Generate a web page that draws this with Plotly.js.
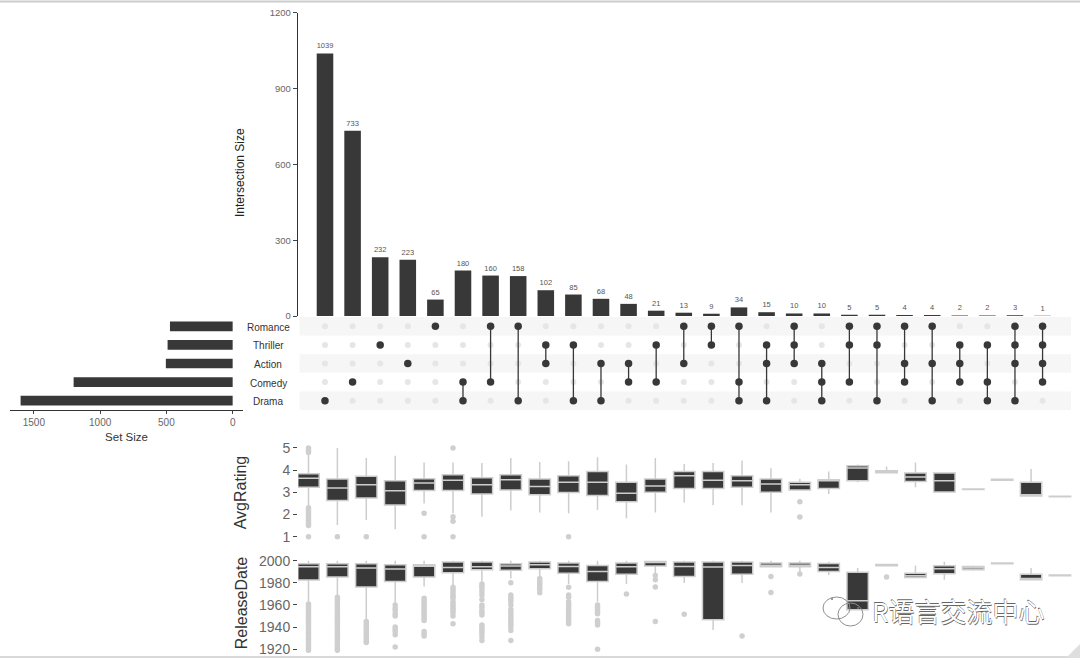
<!DOCTYPE html>
<html>
<head>
<meta charset="utf-8">
<script src="https://cdn.plot.ly/plotly-3.0.1.min.js"></script>
<style>html,body{margin:0;padding:0;background:#fff}#chart{width:1080px;height:658px}</style>
</head>
<body>
<div id="chart"></div>
<script>
// ---- data ----
const intersectionSizes = [1039,733,232,223,65,180,160,158,102,85,68,48,21,13,9,34,15,10,10,5,5,4,4,2,2,3,1];
const setNames = ['Romance','Thriller','Action','Comedy','Drama'];
const setSizes = [473,491,504,1200,1600];
const memberships = [
 ['Drama'],['Comedy'],['Thriller'],['Action'],['Romance'],
 ['Comedy','Drama'],['Romance','Comedy'],['Romance','Drama'],['Thriller','Action'],['Thriller','Drama'],
 ['Action','Drama'],['Action','Comedy'],['Thriller','Comedy'],['Romance','Action'],['Romance','Thriller'],
 ['Romance','Comedy','Drama'],['Thriller','Action','Drama'],['Romance','Thriller','Action'],['Action','Comedy','Drama'],
 ['Romance','Thriller','Comedy'],['Romance','Thriller','Drama'],['Romance','Action','Comedy'],['Romance','Action','Drama'],
 ['Thriller','Action','Comedy'],['Thriller','Comedy','Drama'],['Romance','Thriller','Action','Drama'],['Romance','Thriller','Action','Comedy']
];
const ratingQ3     = [3.84,3.60,3.72,3.52,3.61,3.79,3.66,3.79,3.60,3.75,3.94,3.45,3.60,3.94,3.94,3.75,3.60,3.46,3.57,4.20,3.97,3.87,3.87,3.15,3.59,3.46,2.82];
const ratingMedian = [3.64,3.19,3.34,3.07,3.42,3.54,3.34,3.57,3.26,3.45,3.45,2.96,3.29,3.75,3.54,3.52,3.38,3.34,3.55,4.10,3.93,3.69,3.52,3.14,3.57,2.89,2.81];
const ratingQ1     = [3.23,2.63,2.74,2.43,3.08,3.08,2.93,3.11,2.89,2.99,2.86,2.58,3.00,3.17,3.17,3.23,3.00,3.11,3.17,3.52,3.88,3.49,3.02,3.13,3.55,2.84,2.80];
const ratingUpper  = [4.70,5.00,4.55,4.65,4.35,4.35,4.32,4.55,4.37,4.40,4.58,4.25,4.55,4.28,4.32,4.43,4.09,3.61,3.94,4.25,4.17,4.35,3.90,3.15,3.59,4.05,2.82];
const ratingLower  = [2.40,1.53,1.75,1.33,2.50,2.06,1.90,2.18,2.09,2.06,2.20,1.83,2.09,2.54,2.42,2.42,2.09,3.11,2.93,3.45,3.88,3.23,3.02,3.13,3.55,2.84,2.80];
const ratingOutliers = [
 [5.0,4.9,4.8,2.3,2.2,2.1,2.0,1.9,1.8,1.7,1.6,1.5,1.0],[1.0],[1.0],[],[2.06,1.0],[5.0,1.9,1.7,1.0],[],[],[],[1.0],[],[],[],[],[],[],[],[2.58,1.89],[],[],[],[],[],[],[],[],[]
];
const dateQ3     = [1997.3,1997.3,1997.3,1996.4,1996.4,1998.8,1998.8,1997.3,1998.8,1997.9,1995.8,1997.9,1999.4,1998.8,1998.8,1998.8,1998.0,1998.0,1997.6,1989.7,1996.5,1988.8,1995.5,1994.9,1997.9,1987.9,1987.0];
const dateMedian = [1994.6,1994.6,1993.4,1992.5,1995.0,1994.0,1994.6,1995.2,1996.4,1994.9,1990.3,1994.6,1999.0,1994.9,1994.3,1995.8,1996.0,1996.0,1994.0,1963.8,1996.0,1986.5,1992.8,1993.4,1997.6,1983.9,1986.7];
const dateQ1     = [1982.5,1985.2,1976.2,1981.3,1985.2,1989.1,1991.8,1991.5,1992.8,1988.8,1981.3,1987.9,1995.2,1985.8,1946.6,1987.9,1994.6,1994.6,1990.3,1955.6,1995.5,1984.9,1988.2,1991.8,1997.3,1982.8,1986.4];
const dateUpper  = [2000,2000,2000,2000,2000,2000,2000,2000,2000,2000,2000,2000,2000,2000,2000,2000,2000,2000,1999.0,1993.4,1996.5,1995.8,1999.0,1995.8,1997.9,1993.4,1987.0];
const dateLower  = [1961.7,1967.7,1945.7,1961.7,1976.8,1978,1981,1984,1986,1979,1963,1979,1989,1979.8,1937.5,1979.8,1994.6,1989,1987,1955.6,1995.5,1984.9,1982.8,1991,1997.3,1982.8,1986.4];
const dateOutliers = [
 [1961,1959,1957,1955,1953,1951,1949,1947,1945,1943,1941,1939,1937,1935,1933,1931,1929,1927,1925,1923,1921,1919],
 [1967,1965,1963,1961,1959,1957,1955,1953,1951,1949,1947,1945,1943,1941,1939,1937,1935,1933,1931,1929,1927,1925,1923,1921,1919],
 [1945,1943,1941,1939,1937,1935,1933,1931,1929,1927,1926],
 [1960,1957,1955,1952,1950,1940,1938,1936,1933,1922],
 [1966,1964,1962,1960,1958,1956,1954,1952,1950,1948,1946,1936,1934,1932],
 [1976,1974,1972,1970,1968,1966,1963,1961,1959,1957,1955,1953,1950,1943],
 [1979,1977,1975,1972,1969,1965,1960,1958,1955,1953,1951,1942,1940,1938,1936,1934,1931,1928],
 [1980,1969,1967,1965,1963,1960,1956,1954,1952,1950,1948,1946,1944,1942,1940,1937,1928],
 [1984,1982,1980,1978,1976,1974,1971],
 [1976,1969,1967,1963,1961,1959,1957,1955,1953,1951,1949,1947,1945,1943],
 [1960,1958,1956,1954,1952,1946,1944,1942,1920],
 [1970],
 [1986.7,1982.8,1976.2,1945],
 [1951.7],[],[1932],[1985.8,1971.3],[1988],[],[],[1985.2],[],[],[],[],[],[]
];
const barTicks = [0,300,600,900,1200];
const setTicks = [0,500,1000,1500];
const ratingTicks = [1,2,3,4,5];
const dateTicks = [1920,1940,1960,1980,2000];
const stripedSets = ['Romance','Action','Drama'];

// ---- helpers ----
const W = 1080, H = 658;
const fx = p => p / W;
const fy = p => 1 - p / H;
const cols = intersectionSizes.map((_, i) => i + 1);
const rowOrder = setNames.slice().reverse();
const DARK = '#383838', GREY = '#cfcfcf', FONT = '"Liberation Sans", Arial, sans-serif';

const dotX = [], dotY = [], emptyX = [], emptyY = [], linkX = [], linkY = [];
memberships.forEach((m, i) => {
  setNames.forEach(s => {
    if (m.includes(s)) { dotX.push(cols[i]); dotY.push(s); }
    else { emptyX.push(cols[i]); emptyY.push(s); }
  });
  if (m.length > 1) { linkX.push(cols[i], cols[i], null); linkY.push(m[0], m[m.length - 1], null); }
});
const flatten = arrs => {
  const x = [], y = [];
  arrs.forEach((a, i) => a.forEach(v => { x.push(cols[i]); y.push(v); }));
  return {x, y};
};
const rOut = flatten(ratingOutliers), dOut = flatten(dateOutliers);
const boxStyle = {type:'box', x:cols, boxpoints:false, width:0.74, whiskerwidth:0,
  fillcolor:DARK, line:{color:'#cdcdcd', width:1.5}};
const dotStyle = {type:'scatter', mode:'markers', marker:{color:GREY, size:5.5}};

const traces = [
  {type:'bar', x:cols, y:intersectionSizes, xaxis:'x', yaxis:'y', width:0.6, marker:{color:DARK},
   text:intersectionSizes.map(String), textposition:'outside', cliponaxis:false,
   textfont:{size:7.5, color:'#555', family:FONT}, textangle:0, constraintext:'none'},
  {type:'scatter', mode:'markers', x:emptyX, y:emptyY, xaxis:'x', yaxis:'y2', marker:{color:'#e6e6e6', size:6}},
  {type:'scatter', mode:'lines', x:linkX, y:linkY, xaxis:'x', yaxis:'y2', line:{color:DARK, width:1.3}},
  {type:'scatter', mode:'markers', x:dotX, y:dotY, xaxis:'x', yaxis:'y2', marker:{color:DARK, size:7.5}},
  {type:'bar', orientation:'h', x:setSizes, y:setNames, xaxis:'x2', yaxis:'y2', width:0.52, marker:{color:DARK}},
  Object.assign({}, boxStyle, {q1:ratingQ1, median:ratingMedian, q3:ratingQ3, lowerfence:ratingLower, upperfence:ratingUpper, xaxis:'x3', yaxis:'y3'}),
  Object.assign({}, dotStyle, {x:rOut.x, y:rOut.y, xaxis:'x3', yaxis:'y3'}),
  Object.assign({}, boxStyle, {q1:dateQ1, median:dateMedian, q3:dateQ3, lowerfence:dateLower, upperfence:dateUpper, xaxis:'x4', yaxis:'y4'}),
  Object.assign({}, dotStyle, {x:dOut.x, y:dOut.y, xaxis:'x4', yaxis:'y4'})
];

const hiddenX = (range, anchor) => ({domain:[fx(298), fx(1075)], range, anchor, visible:false, fixedrange:true});

const shapes = stripedSets.map(s => ({
  type:'rect', layer:'below', xref:'x domain', x0:0.002, x1:1, yref:'y2',
  y0:rowOrder.indexOf(s) - 0.5, y1:rowOrder.indexOf(s) + 0.5, fillcolor:'#f6f6f6', line:{width:0}
}));
// screenshot frame
shapes.push({type:'line', xref:'paper', yref:'paper', x0:0, x1:1, y0:fy(1.5), y1:fy(1.5), line:{color:'#cccccc', width:2}});
shapes.push({type:'line', xref:'paper', yref:'paper', x0:0, x1:1, y0:fy(657), y1:fy(657), line:{color:'#cccccc', width:1.5}});
shapes.push({type:'path', xref:'paper', yref:'paper',
  path:`M ${fx(1080)} ${fy(644)} L ${fx(1080)} ${fy(658)} L ${fx(1066)} ${fy(658)} Z`, fillcolor:'#dedede', line:{width:0}});
// watermark icon
const ring = (x0, y0, x1, y1) => ({type:'circle', xref:'paper', yref:'paper', x0:fx(x0), x1:fx(x1), y0:fy(y1), y1:fy(y0), line:{color:'#8f8f8f', width:1}, fillcolor:'rgba(0,0,0,0)'});
const eye = (x, y) => ({type:'circle', xref:'paper', yref:'paper', x0:fx(x-1), x1:fx(x+1), y0:fy(y+1), y1:fy(y-1), fillcolor:'#777', line:{width:0}});
shapes.push(ring(823,597,850,619), ring(838,603,863,626), eye(832,599), eye(849,608), eye(858,608));

const annotations = setNames.map(s => ({
  xref:'paper', yref:'y2', x:fx(268), y:rowOrder.indexOf(s), yshift:-1, text:s, showarrow:false, xanchor:'center', yanchor:'middle',
  font:{size:10, color:'#333', family:FONT}
}));
annotations.push({xref:'paper', yref:'paper', x:fx(239.5), y:fy(172.5), text:'Intersection Size', textangle:-90, showarrow:false,
  xanchor:'center', yanchor:'middle', font:{size:12, color:'#222', family:FONT}});
annotations.push({xref:'paper', yref:'paper', x:fx(958.5), y:fy(610), text:'R语言交流中心', showarrow:false, xanchor:'center', yanchor:'middle',
  font:{size:26, family:'"Noto Sans CJK SC", sans-serif', color:'#ffffff', shadow:'0.6px 0.6px 0.6px #666, -0.6px -0.6px 0.6px #666'}});

const layout = {
  width:W, height:H, margin:{l:0, r:0, t:0, b:0, pad:0}, paper_bgcolor:'#fff', plot_bgcolor:'rgba(0,0,0,0)',
  showlegend:false, hovermode:false, bargap:0.4, boxmode:'overlay',
  font:{family:FONT, color:'#555'},
  xaxis:{domain:[fx(298), fx(1071)], range:[0.022, 28.03], anchor:'y', visible:false, fixedrange:true},
  yaxis:{domain:[fy(316), fy(12.7)], range:[0,1200], anchor:'x', tickmode:'array', tickvals:barTicks, showgrid:false, zeroline:false,
    showline:true, linecolor:'#333', linewidth:1.2, ticks:'outside', ticklen:4, tickcolor:'#444', tickwidth:1,
    tickfont:{size:9.5, color:'#666', family:FONT}},
  yaxis2:{domain:[fy(410), fy(317)], type:'category', categoryorder:'array', categoryarray:rowOrder, range:[-0.5,4.5],
    anchor:'x', visible:false, fixedrange:true},
  xaxis2:{domain:[fx(10), fx(243)], range:[1680,-78], anchor:'y2', tickmode:'array', tickvals:setTicks, showgrid:false, zeroline:false,
    showline:true, linecolor:'#333', linewidth:1.2, ticks:'outside', ticklen:3, tickcolor:'#444',
    tickfont:{size:10, color:'#666', family:FONT},
    title:{text:'Set Size', standoff:5, font:{size:11.5, color:'#333', family:FONT}}},
  xaxis3:hiddenX([0.637, 27.52], 'y3'),
  yaxis3:{domain:[fy(545), fy(440)], range:[0.625,5.36], anchor:'x3', tickmode:'array', tickvals:ratingTicks, showgrid:false, zeroline:false,
    showline:false, ticks:'outside', ticklen:4, tickcolor:'#444', tickfont:{size:14, color:'#666', family:FONT},
    title:{text:'AvgRating', standoff:31, font:{size:16, color:'#333', family:FONT}}},
  xaxis4:hiddenX([0.637, 27.52], 'y4'),
  yaxis4:{domain:[fy(653), fy(553)], range:[1916.6,2007], anchor:'x4', tickmode:'array', tickvals:dateTicks, showgrid:false, zeroline:false,
    showline:false, ticks:'outside', ticklen:4, tickcolor:'#444', tickfont:{size:14, color:'#666', family:FONT},
    title:{text:'ReleaseDate', standoff:7, font:{size:16, color:'#333', family:FONT}}},
  shapes, annotations
};
Plotly.newPlot('chart', traces, layout, {staticPlot:true, displayModeBar:false});
</script>
</body>
</html>
